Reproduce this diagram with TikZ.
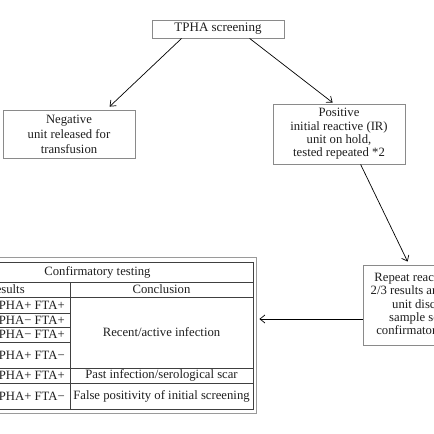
\documentclass[tikz,border=0pt]{standalone}
\usepackage{fontspec}
\setmainfont{Liberation Serif}
\usetikzlibrary{arrows.meta}
\definecolor{boxgray}{HTML}{8A8A8A}
\definecolor{framegray}{HTML}{9A9A9A}
\definecolor{tablegray}{HTML}{404040}
\definecolor{inkcol}{HTML}{1E1E1E}
\begin{document}
\begin{tikzpicture}[x=1pt,y=-1pt,
  box/.style={draw=boxgray, line width=0.8pt, fill=white, align=center, inner sep=0pt, text=inkcol,
              font=\fontsize{12.7}{13.3}\selectfont},
  arr/.style={-{Straight Barb[length=5pt,width=8pt]}, line width=0.7pt, black},
  cell/.style={inner sep=0pt, text=inkcol, font=\fontsize{12.7}{14}\selectfont},
  tline/.style={draw=tablegray, line width=0.8pt}]
\useasboundingbox (0,0) rectangle (434,434);
\clip (0,0) rectangle (434,434);

% flow boxes
\node[box, minimum width=132pt, minimum height=18pt, font=\fontsize{13}{14}\selectfont] (tpha) at (218,29) {TPHA screening};
\node[box, minimum width=132pt, minimum height=48pt, font=\fontsize{12.7}{15}\selectfont] (neg) at (69,134) {Negative\\unit released for\\transfusion};
\node[box, minimum width=132pt, minimum height=60pt] (pos) at (339,134) {Positive\\initial reactive (IR)\\unit on hold,\\tested repeated *2};
\node[box, minimum width=130pt, minimum height=80pt] (rep) at (428,305) {Repeat reactive (RR)\\2/3 results are reactive\\unit discarded\\sample sent for\\confirmatory testing};

% table frames
\node[draw=framegray, line width=0.8pt, minimum width=318pt, minimum height=156pt, inner sep=0pt] (tframe) at (97,335) {};
\node[draw=tablegray, line width=0.8pt, minimum width=311pt, minimum height=147pt, inner sep=0pt] (tinner) at (97.5,335.5) {};

% table rules
\draw[tline] (-58,282) -- (253,282);
\draw[tline] (-58,297) -- (253,297);
\draw[tline] (-58,313) -- (70,313);
\draw[tline] (-58,327) -- (70,327);
\draw[tline] (-58,342) -- (70,342);
\draw[tline] (-58,368) -- (253,368);
\draw[tline] (-58,383) -- (253,383);
\draw[tline] (70,282) -- (70,409);

% table text
\node[cell] (ttitle) at (97.5,272) {Confirmatory testing};
\node[cell] (hres) at (6,289.5) {Results};
\node[cell] (hcon) at (161.5,289.5) {Conclusion};
\node[cell, anchor=east] (r1) at (65,305) {TPHA+ FTA+};
\node[cell, anchor=east] (r2) at (65,320) {TPHA− FTA+};
\node[cell, anchor=east] (r3) at (65,334.5) {TPHA− FTA+};
\node[cell, anchor=east] (r4) at (65,355) {TPHA+ FTA−};
\node[cell, anchor=east] (r5) at (65,375.5) {TPHA+ FTA+};
\node[cell, anchor=east] (r6) at (65,396) {TPHA+ FTA−};
\node[cell] (c1) at (161.5,332.5) {Recent/active infection};
\node[cell] (c2) at (161.5,375.5) {Past infection/serological scar};
\node[cell] (c3) at (161.5,396) {False positivity of initial screening};

% connectors
\draw[arr] ([xshift=30pt]tpha.south west) -- ([xshift=107pt,yshift=3pt]neg.north west);
\draw[arr] ([xshift=98pt]tpha.south west) -- ([xshift=60pt,yshift=1pt]pos.north west);
\draw[arr] ([xshift=88pt]pos.south west) -- ([xshift=45pt,yshift=3pt]rep.north west);
\coordinate (a4s) at ([yshift=-14pt]rep.west);
\path (tframe.east |- a4s) ++(3,0) coordinate (a4e);
\draw[arr] (a4s) -- (a4e);
\end{tikzpicture}
\end{document}
